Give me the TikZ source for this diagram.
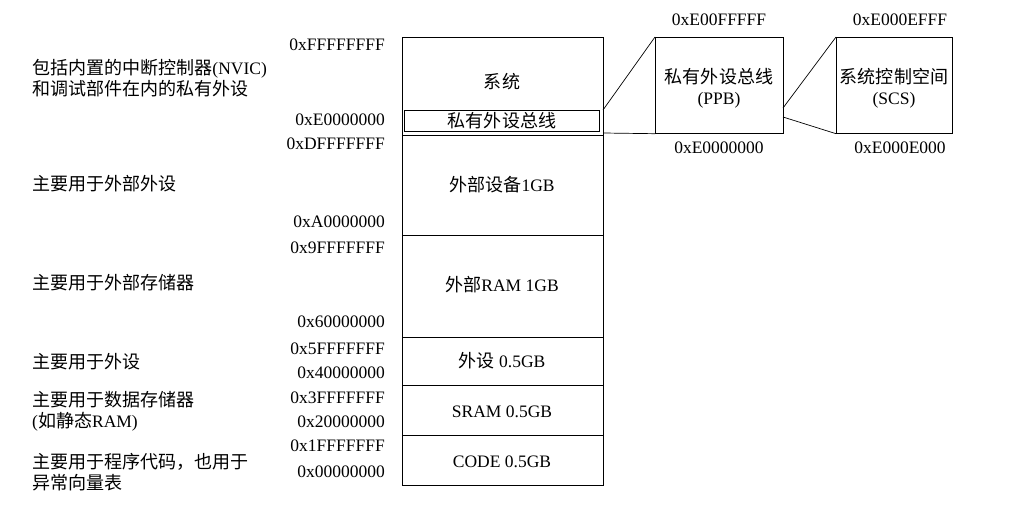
\documentclass[tikz,border=0pt]{standalone}
\usepackage{fontspec}
\setmainfont{Liberation Serif}
\newfontfamily\cjk{Noto Sans CJK SC}[Scale=1.03]
\newcommand{\zh}[1]{{\cjk #1}}
\begin{document}
\begin{tikzpicture}[x=1pt,y=-1pt,font=\fontsize{17.5}{21}\selectfont,
  box/.style={draw,line width=0.7pt},
  lab/.style={anchor=west,align=left,inner sep=0},
  addr/.style={anchor=east,inner sep=0},
  txt/.style={align=center,inner sep=0}]
\useasboundingbox (0,0) rectangle (1011,505);
% main column
\node[box,minimum width=201,minimum height=98,anchor=north west] (sys) at (402,37) {};
\node[box,minimum width=201,minimum height=100,anchor=north west] (ext) at (402,135) {};
\node[box,minimum width=201,minimum height=102,anchor=north west] (ram) at (402,235) {};
\node[box,minimum width=201,minimum height=48,anchor=north west] (per) at (402,337) {};
\node[box,minimum width=201,minimum height=50,anchor=north west] (sram) at (402,385) {};
\node[box,minimum width=201,minimum height=50,anchor=north west] (code) at (402,435) {};
\node[txt] at (502,82) {\zh{系统}};
\node[box,minimum width=195,minimum height=21,inner sep=0] (ppbin) at (502,121) {\zh{私有外设总线}};
\node[txt] at (502,185) {\zh{外部设备}1GB};
\node[txt] at (502,285) {\zh{外部}RAM 1GB};
\node[txt] at (502,361) {\zh{外设} 0.5GB};
\node[txt] at (502,412) {SRAM 0.5GB};
\node[txt] at (502,462) {CODE 0.5GB};
% PPB and SCS
\node[box,minimum width=128,minimum height=96,anchor=north west] (ppb) at (655,37) {};
\node[txt] at (719,88) {\zh{私有外设总线}\\(PPB)};
\node[box,minimum width=116,minimum height=96,anchor=north west] (scs) at (836,37) {};
\node[txt] at (894,88) {\zh{系统控制空间}\\(SCS)};
\coordinate (a) at (603,110);
\coordinate (d) at (603,133);
\coordinate (b) at (783,108);
\coordinate (c) at (783,117);
\draw[line width=0.7pt] (a) -- (ppb.north west);
\draw[line width=0.7pt] (d) -- (ppb.south west);
\draw[line width=0.7pt] (b) -- (scs.north west);
\draw[line width=0.7pt] (c) -- (scs.south west);
\node at (719,20) {0xE00FFFFF};
\node at (900,20) {0xE000EFFF};
\node at (719,148) {0xE0000000};
\node at (900,148) {0xE000E000};
% addresses
\foreach \y/\t in {45/0xFFFFFFFF,120/0xE0000000,144/0xDFFFFFFF,222/0xA0000000,248/0x9FFFFFFF,322/0x60000000,349/0x5FFFFFFF,373/0x40000000,398/0x3FFFFFFF,422/0x20000000,446/0x1FFFFFFF,472/0x00000000}
  \node[addr] at (385,\y) {\t};
% left labels
\node[lab] at (32,78) {\zh{包括内置的中断控制器}(NVIC)\\\zh{和调试部件在内的私有外设}};
\node[lab] at (32,184) {\zh{主要用于外部外设}};
\node[lab] at (32,283) {\zh{主要用于外部存储器}};
\node[lab] at (32,362) {\zh{主要用于外设}};
\node[lab] at (32,411) {\zh{主要用于数据存储器}\\(\zh{如静态}RAM)};
\node[lab] at (32,472) {\zh{主要用于程序代码，也用于}\\\zh{异常向量表}};
\end{tikzpicture}
\end{document}
